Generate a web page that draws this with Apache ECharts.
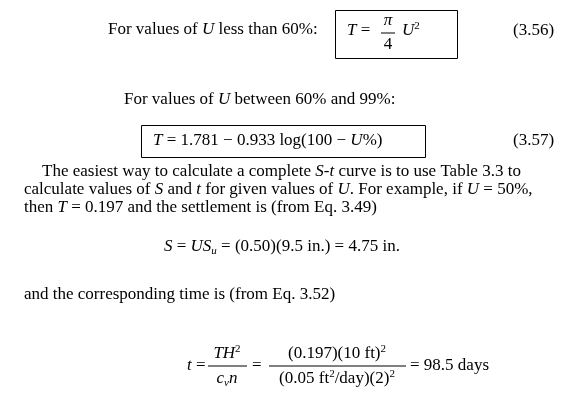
<!DOCTYPE html>
<html><head><meta charset="utf-8">
<script src="https://cdn.jsdelivr.net/npm/echarts@6/dist/echarts.min.js"></script>
<style>html,body{margin:0;padding:0;background:#fff}#c{width:571px;height:416px}</style>
</head><body><div id="c"></div>
<script>
const paragraph = [
  "The easiest way to calculate a complete {i|S-t} curve is to use Table 3.3 to",
  "calculate values of {i|S} and {i|t} for given values of {i|U}. For example, if {i|U} = 50%,",
  "then {i|T} = 0.197 and the settlement is (from Eq. 3.49)"
];
const eqNumbers = ["(3.56)", "(3.57)"];
const F = "Liberation Serif";
const FS = 17;
const rich = {
  i:{fontFamily:F,fontStyle:'italic',fontSize:FS,fill:'#000'},
  sup:{fontFamily:F,fontSize:11,verticalAlign:'top',padding:[0,0,9,0],fill:'#000'},
  sub:{fontFamily:F,fontStyle:'italic',fontSize:11,padding:[9,0,0,0],fill:'#000'}
};
function T(x,y,text,align){
  return {type:'text',x:x,y:y,style:{text:text,fontFamily:F,fontSize:FS,fill:'#000',
    align:align||'left',verticalAlign:'middle',rich:rich}};
}
function L(x1,y1,x2,y2){return {type:'line',shape:{x1,y1,x2,y2},style:{stroke:'#000',lineWidth:1}};}
function R(x,y,w,h){return {type:'rect',shape:{x,y,width:w,height:h},style:{fill:'none',stroke:'#000',lineWidth:1}};}
const els = [
  T(108,30,"For values of {i|U} less than 60%:"),
  R(335.5,10.5,122,48),
  T(347,31,"{i|T} ="),
  T(388,21,"{i|π}",'center'), L(381,33,395,33), T(388,45,"4",'center'),
  T(402,31,"{i|U}{sup|2}"),
  T(513,31,eqNumbers[0]),
  T(124,100,"For values of {i|U} between 60% and 99%:"),
  R(141.5,125.5,284,32),
  T(153,141,"{i|T} = 1.781 − 0.933 log(100 − {i|U}%)"),
  T(513,141,eqNumbers[1]),
  T(42,172,paragraph[0]),
  T(24,190,paragraph[1]),
  T(24,208,paragraph[2]),
  T(164,247,"{i|S} = {i|US}{sub|u} = (0.50)(9.5 in.) = 4.75 in."),
  T(24,295,"and the corresponding time is (from Eq. 3.52)"),
  T(187,366,"{i|t} ="),
  T(227,354,"{i|TH}{sup|2}",'center'), L(208,366,247,366), T(227,379,"{i|c}{sub|v}{i|n}",'center'),
  T(252,366,"="),
  T(337,354,"(0.197)(10 ft){sup|2}",'center'), L(269,366,406,366),
  T(337,379,"(0.05 ft{sup|2}/day)(2){sup|2}",'center'),
  T(410,366,"= 98.5 days")
];
const chart = echarts.init(document.getElementById('c'));
chart.setOption({backgroundColor:'#fff',graphic:{elements:els}});
</script></body></html>
